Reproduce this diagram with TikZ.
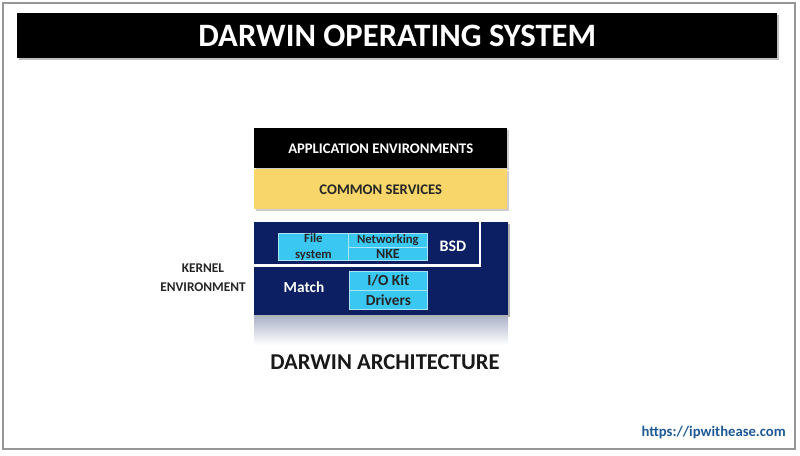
\documentclass[tikz,border=0pt]{standalone}
\usepackage{fontspec}
\setmainfont{Carlito}
\definecolor{navy}{RGB}{12,31,98}
\definecolor{cyanbox}{RGB}{58,200,242}
\definecolor{cyanline}{RGB}{170,230,250}
\definecolor{yellowbox}{RGB}{248,214,106}
\definecolor{urlblue}{RGB}{31,90,150}
\definecolor{framegray}{RGB}{150,150,150}
\tikzset{
  blackbar/.style={fill=black, draw=none},
  cell/.style={fill=cyanbox, draw=cyanline, line width=0.6pt},
  celltext/.style={font=\bfseries\fontsize{9.5}{10}\selectfont, text=black!85, inner sep=0pt},
  whitelabel/.style={font=\bfseries\fontsize{12}{13}\selectfont, text=white, inner sep=0pt},
  darklabel/.style={font=\bfseries\fontsize{10}{12}\selectfont, text=black!85, inner sep=0pt, align=center},
}
\begin{document}
\begin{tikzpicture}[x=0.75pt,y=-0.75pt]
\useasboundingbox (0,0) rectangle (800,455);
\fill[white] (0,0) rectangle (800,455);
% outer frame
\draw[framegray, line width=1.5pt] (3,3) rectangle (795,449);
% title bar
\fill[black!25] (19,15) rectangle (779,60);
\node[blackbar, minimum width=760*0.75pt, minimum height=45*0.75pt, anchor=north west, inner sep=0pt] (title) at (17,13) {};
\node[text=white, font=\bfseries\fontsize{24.5}{27}\selectfont, inner sep=0pt] (titletext) at (title.center) {DARWIN OPERATING SYSTEM};
% application environments
\fill[black!20] (256,130) rectangle (509,170);
\node[blackbar, minimum width=253*0.75pt, minimum height=40*0.75pt, anchor=north west, inner sep=0pt] (app) at (254,128) {};
\node[font=\bfseries\fontsize{11}{12}\selectfont, text=white, inner sep=0pt] (apptext) at (app.center) {APPLICATION ENVIRONMENTS};
% common services
\fill[black!20] (256,171) rectangle (509,211);
\node[fill=yellowbox, minimum width=253*0.75pt, minimum height=40*0.75pt, anchor=north west, inner sep=0pt] (common) at (254,169) {};
\node[font=\bfseries\fontsize{11}{12}\selectfont, text=black!85, inner sep=0pt] (commontext) at (common.center) {COMMON SERVICES};
% reflection under kernel
\shade[top color=navy!35, bottom color=white] (254,315) rectangle (508,345);
% kernel block
\fill[black!30] (256,224) rectangle (510,317);
\node[fill=navy, minimum width=254*0.75pt, minimum height=93*0.75pt, anchor=north west, inner sep=0pt] (kernel) at (254,222) {};
\draw[white, line width=1.6pt] (480,222) -- (480,265.5) -- (254,265.5);
% BSD cells
\node[cell, minimum width=70*0.75pt, minimum height=27*0.75pt, anchor=north west, inner sep=0pt] (fs) at (278,233) {};
\node[celltext, align=center] (fstext) at (fs.center) {File\\[1.5pt]system};
\node[cell, minimum width=79*0.75pt, minimum height=13.5*0.75pt, anchor=north west, inner sep=0pt] (net) at (348,233) {};
\node[celltext] (nettext) at (net.center) {Networking};
\node[cell, minimum width=79*0.75pt, minimum height=13.5*0.75pt, anchor=north west, inner sep=0pt] (nke) at (348,246.5) {};
\node[celltext, font=\bfseries\fontsize{10.5}{11}\selectfont] (nketext) at (nke.center) {NKE};
\node[whitelabel] (bsd) at (453,246) {BSD};
% Mach cells
\node[whitelabel, font=\bfseries\fontsize{11.5}{13}\selectfont] (match) at (304,287) {Match};
\node[cell, minimum width=78*0.75pt, minimum height=19*0.75pt, anchor=north west, inner sep=0pt] (io) at (349,271) {};
\node[celltext, font=\bfseries\fontsize{11.5}{12}\selectfont] (iotext) at (io.center) {I/O Kit};
\node[cell, minimum width=78*0.75pt, minimum height=19*0.75pt, anchor=north west, inner sep=0pt] (drv) at (349,290) {};
\node[celltext, font=\bfseries\fontsize{11.5}{12}\selectfont] (drvtext) at (drv.center) {Drivers};
% kernel environment label
\node[darklabel] (kenv) at (203,278) {KERNEL\\[2pt]ENVIRONMENT};
% architecture caption
\node[font=\bfseries\fontsize{17}{19}\selectfont, text=black!90, inner sep=0pt] (arch) at (385,362) {DARWIN ARCHITECTURE};
% url
\node[font=\bfseries\fontsize{11}{12}\selectfont, text=urlblue, inner sep=0pt, anchor=east] (url) at (786,432) {https://ipwithease.com};
\end{tikzpicture}
\end{document}
